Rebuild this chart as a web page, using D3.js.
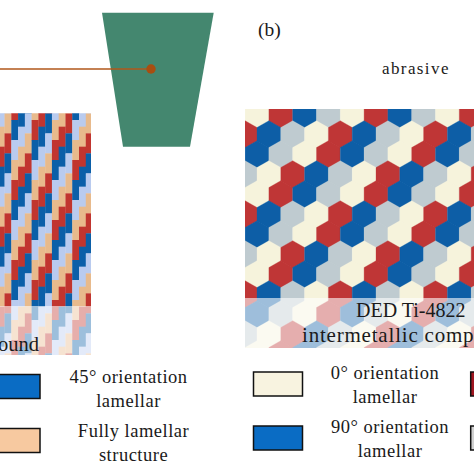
<!DOCTYPE html>
<html>
<head>
<meta charset="utf-8">
<script src="https://cdnjs.cloudflare.com/ajax/libs/d3/7.8.5/d3.min.js"></script>
<style>
html,body{margin:0;padding:0;background:#fff;overflow:hidden;}
text{font-family:"Liberation Serif",serif;fill:#1a1a1a;}
</style>
</head>
<body>
<div class="figure"></div>
<script>
//Lamella colours, order as read down a column / along a row
const brickColours = ['#c1352f', '#0b5fa8', '#b9cbef', '#e8ba8c'];
const hexColours = ['#f6f3dc', '#bf3636', '#0d5ea6', '#bfcbd0'];

//Left panel: 3 column groups, each column stepped up from the one before
const brickGroups = [0, 1, 2, 3, 4, 5];
const brickSteps = [0, -2/3, -4/3];
const brickOffsets = d3.range(-8, 22);

//Right panel: hexagon rows, first colour of each row
const hexRowStart = [0, 1, 2, 3, 0, 1, 2, 3, 0, 1, 2, 3, 0];
const hexColumns = d3.range(0, 11);

//Legends
const legendLeft = [
	{fill: '#0a6cc4', row: 0, lines: ['45° orientation', 'lamellar']},
	{fill: '#f7c9a0', row: 1, lines: ['Fully lamellar', 'structure']}
];
const legendRight = [
	{fill: '#f8f3e0', row: 0, lines: ['0° orientation', 'lamellar']},
	{fill: '#0a6cc4', row: 1, lines: ['90° orientation', 'lamellar']}
];
const legendFar = [
	{fill: '#a01520', row: 0},
	{fill: '#d0d0d0', row: 1}
];

const width = 474;
const height = 474;
const svg = d3.select('.figure')
	.append('svg')
	.attr('width', width)
	.attr('height', height)
	.style('display', 'block');

const defs = svg.append('defs');
defs.append('clipPath').attr('id', 'clipLeft').append('rect')
	.attr('x', 0).attr('y', 113.3).attr('width', 91).attr('height', 241.7);
defs.append('clipPath').attr('id', 'clipRight').append('rect')
	.attr('x', 245).attr('y', 109).attr('width', 229).attr('height', 239);

//Tool and its line
const tool = [[102, 12.7], [213.7, 12.7], [190, 146.7], [123, 146.7]];
svg.append('path')
	.attr('d', d3.line()(tool) + 'Z')
	.attr('fill', '#44876f');
svg.append('line')
	.attr('x1', 0).attr('x2', 151).attr('y1', 69).attr('y2', 69)
	.attr('stroke', '#b0571a')
	.attr('stroke-width', 1.5);
svg.append('circle')
	.attr('cx', 151).attr('cy', 69).attr('r', 4.7)
	.attr('fill', '#a84e10');

//Left pattern
const brickX = d3.scaleLinear().domain([0, 1]).range([-9, -2.23]);
const brickY = d3.scaleLinear().domain([0, 1]).range([80, 100]);
const bricks = [];
brickGroups.forEach(g => {
	brickSteps.forEach((step, k) => {
		brickOffsets.forEach(n => {
			bricks.push({col: g * 3 + k, row: g + step + n, colour: brickColours[((n % 4) + 4) % 4]});
		});
	});
});
const left = svg.append('g').attr('clip-path', 'url(#clipLeft)');
left.selectAll('rect')
	.data(bricks)
	.enter()
	.append('rect')
	.attr('x', d => brickX(d.col))
	.attr('y', d => brickY(d.row))
	.attr('width', brickX(1) - brickX(0) + 0.3)
	.attr('height', brickY(1) - brickY(0) + 0.3)
	.attr('fill', d => d.colour);
left.append('rect')
	.attr('x', 0).attr('y', 306).attr('width', 91).attr('height', 49)
	.attr('fill', '#fff').attr('fill-opacity', 0.6);

//Right pattern
const hexX = d3.scaleLinear().domain([0, 1]).range([257, 280.8]);
const hexY = d3.scaleLinear().domain([0, 1]).range([114.4, 134.4]);
const hexW = (hexX(1) - hexX(0)) / 2;
const hexH = 13.7;
const hexes = [];
hexRowStart.forEach((start, r) => {
	hexColumns.forEach(c => {
		hexes.push({
			cx: hexX(r % 2 ? c - 0.5 : c),
			cy: hexY(r),
			colour: hexColours[(start + c) % 4]
		});
	});
});
const right = svg.append('g').attr('clip-path', 'url(#clipRight)');
right.selectAll('path')
	.data(hexes)
	.enter()
	.append('path')
	.attr('d', d => d3.line()([
		[d.cx, d.cy - hexH], [d.cx + hexW, d.cy - hexH / 2], [d.cx + hexW, d.cy + hexH / 2],
		[d.cx, d.cy + hexH], [d.cx - hexW, d.cy + hexH / 2], [d.cx - hexW, d.cy - hexH / 2]
	]) + 'Z')
	.attr('fill', d => d.colour)
	.attr('stroke', d => d.colour)
	.attr('stroke-width', 0.3);
right.append('rect')
	.attr('x', 245).attr('y', 298).attr('width', 229).attr('height', 50)
	.attr('fill', '#fff').attr('fill-opacity', 0.6);

//Labels
svg.append('text').attr('x', 258).attr('y', 36).attr('font-size', '19.5px').text('(b)');
svg.append('text').attr('x', 382).attr('y', 74).attr('font-size', '17px').attr('letter-spacing', '1.4px').text('abrasive');
svg.append('text').attr('x', 39).attr('y', 351).attr('font-size', '20.5px').attr('text-anchor', 'end').text('compound');
svg.append('text').attr('x', 356).attr('y', 317).attr('font-size', '20px').text('DED Ti-4822');
svg.append('text').attr('x', 302).attr('y', 342).attr('font-size', '21px').attr('letter-spacing', '0.8px').text('intermetallic compound');

//Legend boxes and text
const legendY = d3.scaleLinear().domain([0, 1]).range([372, 426]);
function drawSwatches(list, x, w, shift) {
	svg.append('g')
		.selectAll('rect')
		.data(list)
		.enter()
		.append('rect')
		.attr('x', x)
		.attr('y', d => legendY(d.row) + shift)
		.attr('width', w)
		.attr('height', 24)
		.attr('fill', d => d.fill)
		.attr('stroke', '#111')
		.attr('stroke-width', 1.5);
}
drawSwatches(legendLeft, -9, 49, 2.5);
drawSwatches(legendRight, 253.5, 49, 0);
drawSwatches(legendFar, 470.7, 49, 0);

function drawLegendText(list, xs, base) {
	list.forEach(d => {
		d.lines.forEach((line, i) => {
			svg.append('text')
				.attr('x', xs[d.row])
				.attr('y', legendY(d.row) + base + i * 24)
				.attr('font-size', '18.5px')
				.attr('letter-spacing', '0.5px')
				.attr('text-anchor', 'middle')
				.text(line);
		});
	});
}
drawLegendText(legendLeft, [128.5, 133.5], 10.5);
drawLegendText(legendRight, [385, 390], 6.5);
</script>
</body>
</html>
